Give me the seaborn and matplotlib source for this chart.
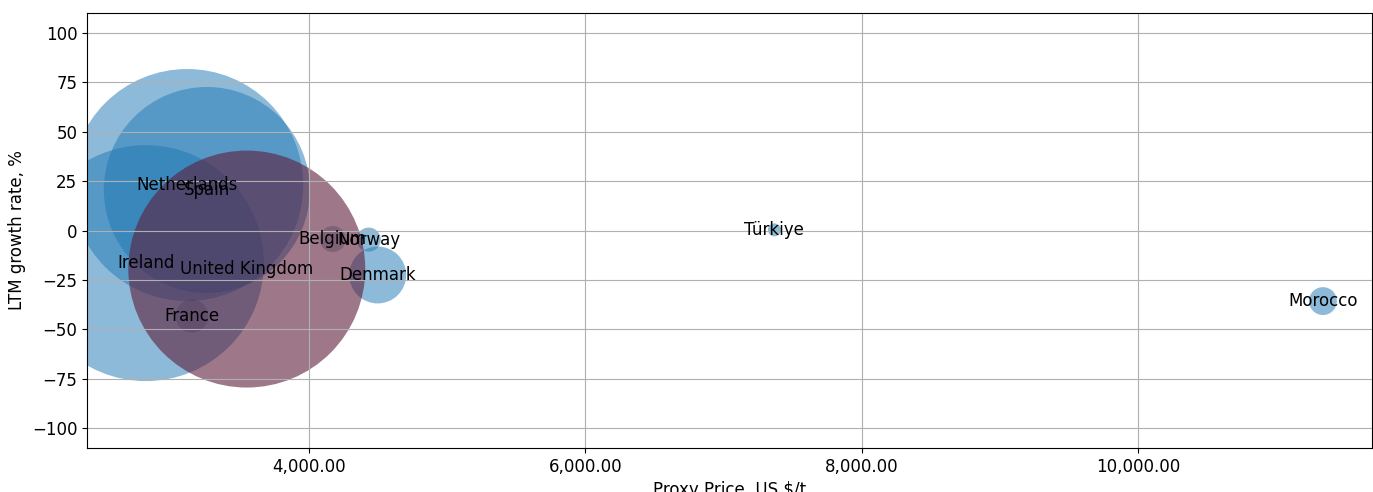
import pandas as pd
import matplotlib
matplotlib.use("Agg")
import matplotlib.pyplot as plt
from matplotlib.ticker import StrMethodFormatter
import seaborn as sns

# datos
paises = ["Netherlands", "Spain", "Ireland", "United Kingdom", "France",
          "Belgium", "Norway", "Denmark", "Türkiye", "Morocco"]
precio = [3120, 3262, 2821, 3551, 3154, 4173, 4433, 4498, 7368, 11336]
crecimiento = [23.0, 20.5, -16.5, -19.5, -43.3, -4.3, -4.6, -22.5, 0.3, -35.7]
volumen = [13460, 10610, 13920, 14040, 270, 170, 145, 810, 42, 195]
grupo = ["otros", "otros", "otros", "destacado", "destacado_chico",
         "destacado_chico", "otros", "otros", "otros", "otros"]

df = pd.DataFrame({
    "Pais": paises,
    "Precio": precio,
    "Crecimiento": crecimiento,
    "Volumen": volumen,
    "Grupo": grupo,
})

plt.rcParams["font.size"] = 12

fig = plt.figure(figsize=(13.73, 4.92), dpi=100)
ax = fig.add_axes([87 / 1373, 44 / 492, 1285 / 1373, 435 / 492])

colores = {"otros": "#1f77b4", "destacado": "#5d1e3a", "destacado_chico": "#4a3a5a"}
alfas = {"otros": 0.5, "destacado": 0.6, "destacado_chico": 0.35}
s_max = 29110  # area del marcador mas grande (pt^2)
v_max = max(volumen)

for g in ["otros", "destacado", "destacado_chico"]:
    sub = df[df["Grupo"] == g]
    sns.scatterplot(data=sub, x="Precio", y="Crecimiento", size="Volumen",
                    sizes=(0, s_max), size_norm=(0, v_max),
                    color=colores[g], alpha=alfas[g], edgecolor="none",
                    legend=False, ax=ax)

for i, fila in df.iterrows():
    ax.text(fila["Precio"], fila["Crecimiento"], fila["Pais"],
            ha="center", va="center", fontsize=12)

ax.set_xlim(2395, 11691)
ax.set_ylim(-110, 110)
ax.set_yticks([-100, -75, -50, -25, 0, 25, 50, 75, 100])
ax.set_xticks([4000, 6000, 8000, 10000])
ax.xaxis.set_major_formatter(StrMethodFormatter("{x:,.2f}"))
ax.grid(True)
ax.set_xlabel("Proxy Price, US $/t")
ax.set_ylabel("LTM growth rate, %")

fig.savefig("out.png", dpi=100)
